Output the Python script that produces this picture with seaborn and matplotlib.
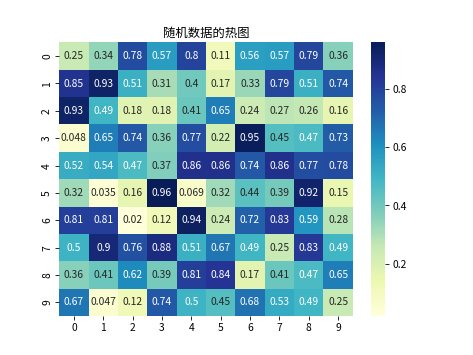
import numpy as np
import matplotlib
matplotlib.use('Agg')
import matplotlib.pyplot as plt
import seaborn as sns

# wartości (zaokrąglone jak w adnotacjach)
row_labels = [str(i) for i in range(10)]
col_labels = [str(i) for i in range(10)]
row0 = [0.25, 0.34, 0.78, 0.57, 0.8, 0.11, 0.56, 0.57, 0.79, 0.36]
row1 = [0.85, 0.93, 0.51, 0.31, 0.4, 0.17, 0.33, 0.79, 0.51, 0.74]
row2 = [0.93, 0.49, 0.18, 0.18, 0.41, 0.65, 0.24, 0.27, 0.26, 0.16]
row3 = [0.048, 0.65, 0.74, 0.36, 0.77, 0.22, 0.95, 0.45, 0.47, 0.73]
row4 = [0.52, 0.54, 0.47, 0.37, 0.86, 0.86, 0.74, 0.86, 0.77, 0.78]
row5 = [0.32, 0.035, 0.16, 0.96, 0.069, 0.32, 0.44, 0.39, 0.92, 0.15]
row6 = [0.81, 0.81, 0.02, 0.12, 0.94, 0.24, 0.72, 0.83, 0.59, 0.28]
row7 = [0.5, 0.9, 0.76, 0.88, 0.51, 0.67, 0.49, 0.25, 0.83, 0.49]
row8 = [0.36, 0.41, 0.62, 0.39, 0.81, 0.84, 0.17, 0.41, 0.47, 0.65]
row9 = [0.67, 0.047, 0.12, 0.74, 0.5, 0.45, 0.68, 0.53, 0.49, 0.25]

data = np.array([row0, row1, row2, row3, row4, row5, row6, row7, row8, row9])

plt.rcParams['font.family'] = ['Noto Sans CJK SC', 'DejaVu Sans']
plt.rcParams['axes.unicode_minus'] = False

fig, ax = plt.subplots(figsize=(6.4, 4.8), dpi=74)
sns.heatmap(data, annot=True, cmap='YlGnBu', ax=ax,
            xticklabels=col_labels, yticklabels=row_labels)
ax.set_title('随机数据的热图')
plt.setp(ax.get_yticklabels(), rotation=90)

plt.savefig('out.png', dpi=74)
plt.close()
